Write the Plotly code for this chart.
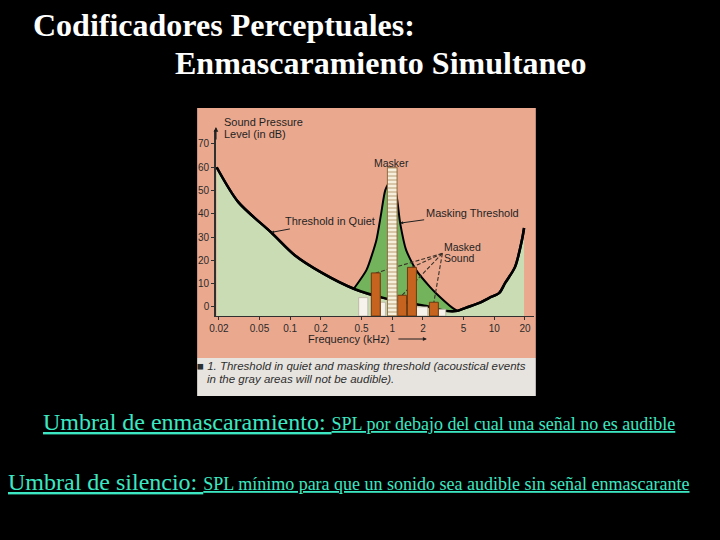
import numpy as np
import plotly.graph_objects as go

# ---------------- data ----------------
quiet_freq_khz = [0.019, 0.031, 0.065, 0.11, 0.205, 0.42, 0.82, 1.5, 2.14, 3.34, 4.37,
                  5.23, 7.15, 8.94, 11.2, 12.8, 16.0, 18.7, 19.6]
quiet_db = [60, 45, 32, 22.3, 14.6, 7.8, 3.9, 1.7, 0.4, -1.7, -1.7,
            -0.4, 1.7, 3.9, 6.0, 10.3, 17.2, 28.8, 33.9]

mask_freq_khz = [0.42, 0.56, 0.70, 0.78, 0.855, 0.96, 1.07, 1.196, 1.367, 1.71, 2.34, 2.67, 3.9, 4.37]
mask_db = [7.8, 15.9, 28.8, 40.3, 50.2, 54.0, 51.0, 36.0, 24.5, 15.9, 8.6, 6.0, -0.4, -1.7]

masker_freq_khz = [1.0]
masker_db = [60]

masked_freq_khz = [0.69, 1.25, 1.56, 2.56]
masked_db = [14.6, 5.0, 17.0, 2.0]

inaudible_freq_khz = [0.52, 0.81, 1.95, 3.06]
inaudible_db = [4.0, 2.0, 0.0, -1.0]

x_tick_khz = [0.02, 0.05, 0.1, 0.2, 0.5, 1, 2, 5, 10, 20]
x_tick_text = ["0.02", "0.05", "0.1", "0.2", "0.5", "1", "2", "5", "10", "20"]
y_ticks = [0, 10, 20, 30, 40, 50, 60, 70]

leader_origin_khz = 3.1
leader_origin_db = 23.0

# ---------------- styles / layout constants ----------------
X_RANGE = [-1.728, 1.388]      # log10(kHz)
Y_RANGE = [-3.9, 76]
SALMON = "#eaa98f"
LIGHT_GREEN = "#cadcb3"
DARK_GREEN = "#72b35c"
ORANGE = "#c6641f"
ORANGE_EDGE = "#6e3810"
INK = "#1f1f1f"
AQUA = "#3ce8c3"
SANS = "Liberation Sans, Arial, sans-serif"
SERIF = "Liberation Serif, Times New Roman, serif"

W, H = 720, 540


def PX(x):
    return x / W


def PY(y):
    return 1 - y / H


lq = np.log10(quiet_freq_khz)
lm = np.log10(mask_freq_khz)
seg = (np.array(quiet_freq_khz) >= mask_freq_khz[0]) & (np.array(quiet_freq_khz) <= mask_freq_khz[-1])

fig = go.Figure()

# floor line for the light-green (below threshold in quiet) fill
fig.add_trace(go.Scatter(x=[lq[0], lq[-1]], y=[Y_RANGE[0]] * 2, mode="lines",
                         line=dict(width=0, color=LIGHT_GREEN), hoverinfo="skip", showlegend=False))
fig.add_trace(go.Scatter(x=lq, y=quiet_db, mode="lines", fill="tonexty", fillcolor=LIGHT_GREEN,
                         line=dict(color="black", width=2.5, shape="spline", smoothing=0.8),
                         showlegend=False, name="Threshold in Quiet"))
# quiet segment under the masking threshold (invisible), then masking threshold fill
fig.add_trace(go.Scatter(x=lq[seg], y=np.array(quiet_db)[seg], mode="lines",
                         line=dict(width=0, shape="spline", smoothing=0.8), hoverinfo="skip",
                         showlegend=False))
fig.add_trace(go.Scatter(x=lm, y=mask_db, mode="lines", fill="tonexty", fillcolor=DARK_GREEN,
                         line=dict(color="black", width=2, shape="spline", smoothing=0.6),
                         showlegend=False, name="Masking Threshold"))
# redraw the quiet threshold line on top of the green
fig.add_trace(go.Scatter(x=lq, y=quiet_db, mode="lines",
                         line=dict(color="black", width=2.5, shape="spline", smoothing=0.8),
                         hoverinfo="skip", showlegend=False))

# dashed leader lines from "Masked Sound"
for f, d in zip(masked_freq_khz, masked_db):
    fig.add_trace(go.Scatter(x=[np.log10(leader_origin_khz), np.log10(f)], y=[leader_origin_db, d],
                             mode="lines", line=dict(color="#3a3028", width=1.1, dash="4px,2px"),
                             hoverinfo="skip", showlegend=False))

# bars on an overlaying axis so they sit above the curves
base = Y_RANGE[0]
fig.add_trace(go.Bar(x=np.log10(inaudible_freq_khz), y=np.array(inaudible_db) - base, base=base,
                     width=[0.09, 0.05, 0.115, 0.078],
                     marker=dict(color="#f6f3ec", line=dict(color="#b8b0a0", width=0.8)),
                     xaxis="x2", yaxis="y2", showlegend=False))
fig.add_trace(go.Bar(x=np.log10(masked_freq_khz), y=np.array(masked_db) - base, base=base,
                     width=0.088,
                     marker=dict(color=ORANGE, line=dict(color=ORANGE_EDGE, width=1)),
                     xaxis="x2", yaxis="y2", showlegend=False))
fig.add_trace(go.Bar(x=np.log10(masker_freq_khz), y=np.array(masker_db) - base, base=base,
                     width=0.095,
                     marker=dict(color="#f6efdc", line=dict(color="#8d6a42", width=1),
                                 pattern=dict(shape="-", fgcolor="#9c7646", size=4, solidity=0.35)),
                     xaxis="x2", yaxis="y2", showlegend=False))

x_dom = [PX(211), PX(532)]
y_dom = [PY(316), PY(130)]

fig.update_layout(
    width=W, height=H,
    margin=dict(l=0, r=0, t=0, b=0),
    paper_bgcolor="black",
    plot_bgcolor=SALMON,
    barmode="overlay",
    xaxis=dict(domain=x_dom, range=X_RANGE, tickvals=np.log10(x_tick_khz), ticktext=x_tick_text,
               showgrid=False, zeroline=False, showline=True, linecolor="#303030", linewidth=1,
               ticks="outside", ticklen=3, tickcolor="#303030",
               tickfont=dict(family=SANS, size=10, color="#2a2a2a")),
    yaxis=dict(domain=y_dom, range=Y_RANGE, tickvals=y_ticks, showgrid=False, zeroline=False,
               showline=True, linecolor="#303030", linewidth=1.5, ticks="outside", ticklen=3,
               tickcolor="#303030", tickfont=dict(family=SANS, size=10, color="#2a2a2a")),
    xaxis2=dict(domain=x_dom, range=X_RANGE, overlaying="x", visible=False),
    yaxis2=dict(domain=y_dom, range=Y_RANGE, overlaying="y", visible=False),
)

# image-like panel behind the chart, and its caption band
fig.add_shape(type="rect", xref="paper", yref="paper", x0=PX(192), x1=PX(534), y0=PY(358), y1=PY(108),
              fillcolor=SALMON, line=dict(width=0), layer="below")
fig.add_shape(type="rect", xref="paper", yref="paper", x0=PX(192), x1=PX(534), y0=PY(396), y1=PY(358),
              fillcolor="#e7e4df", line=dict(width=0), layer="below")

ann = []


def text(x, y, s, size, color=INK, family=SANS, xanchor="left", yanchor="middle", align="left"):
    ann.append(dict(xref="paper", yref="paper", x=PX(x), y=PY(y), text=s, showarrow=False,
                    xanchor=xanchor, yanchor=yanchor, align=align,
                    font=dict(family=family, size=size, color=color)))


# slide titles
text(24, 25, "<b>Codificadores Perceptuales:</b>", 32, "white", SERIF)
text(168, 63, "<b>Enmascaramiento Simultaneo</b>", 32, "white", SERIF)

# slide definitions
text(34, 422, "<u>Umbral de enmascaramiento: <span style='font-size:18px'>SPL por debajo del cual una señal no es audible</span></u>",
     24, AQUA, SERIF)
text(-1, 482, "<u>Umbral de silencio: <span style='font-size:18px'>SPL mínimo para que un sonido sea audible sin señal enmascarante</span></u>",
     24, AQUA, SERIF)

# chart labels
text(217, 122, "Sound Pressure", 11)
text(217, 134, "Level (in dB)", 11)
text(388, 163, "Masker", 10.5, xanchor="center")
text(439, 247, "Masked", 10.5)
text(439, 258, "Sound", 10.5)
text(302, 339, "Frequency (kHz)", 11)
text(190, 366, "■ <i>1. Threshold in quiet and masking threshold (acoustical events</i>", 11.5, "#2e2e2e")
text(200, 379, "<i>in the gray areas will not be audible).</i>", 11.5, "#2e2e2e")

# y-axis arrow
ann.append(dict(xref="paper", yref="paper", x=PX(211), y=PY(127), ax=0, ay=14, text="",
                showarrow=True, arrowhead=2, arrowsize=0.8, arrowwidth=1.2, arrowcolor=INK))
# frequency arrow
ann.append(dict(xref="paper", yref="paper", x=PX(424), y=PY(339), ax=-30, ay=0, text="",
                showarrow=True, arrowhead=2, arrowsize=0.8, arrowwidth=1, arrowcolor=INK))
# threshold in quiet label with pointer
ann.append(dict(xref="x", yref="y", x=lq[2], y=quiet_db[2], ax=59, ay=-11, text="Threshold in Quiet",
                showarrow=True, arrowhead=2, arrowsize=0.6, arrowwidth=1, arrowcolor=INK,
                font=dict(family=SANS, size=11, color=INK)))
# masking threshold label with pointer
ann.append(dict(xref="x", yref="y", x=lm[7], y=mask_db[7], ax=72, ay=-10, text="Masking Threshold",
                showarrow=True, arrowhead=2, arrowsize=0.6, arrowwidth=1, arrowcolor=INK,
                font=dict(family=SANS, size=11, color=INK)))

fig.update_layout(annotations=ann)
fig.write_html("out.html", config={"displayModeBar": False},
               post_script="document.body.style.margin='0';")
